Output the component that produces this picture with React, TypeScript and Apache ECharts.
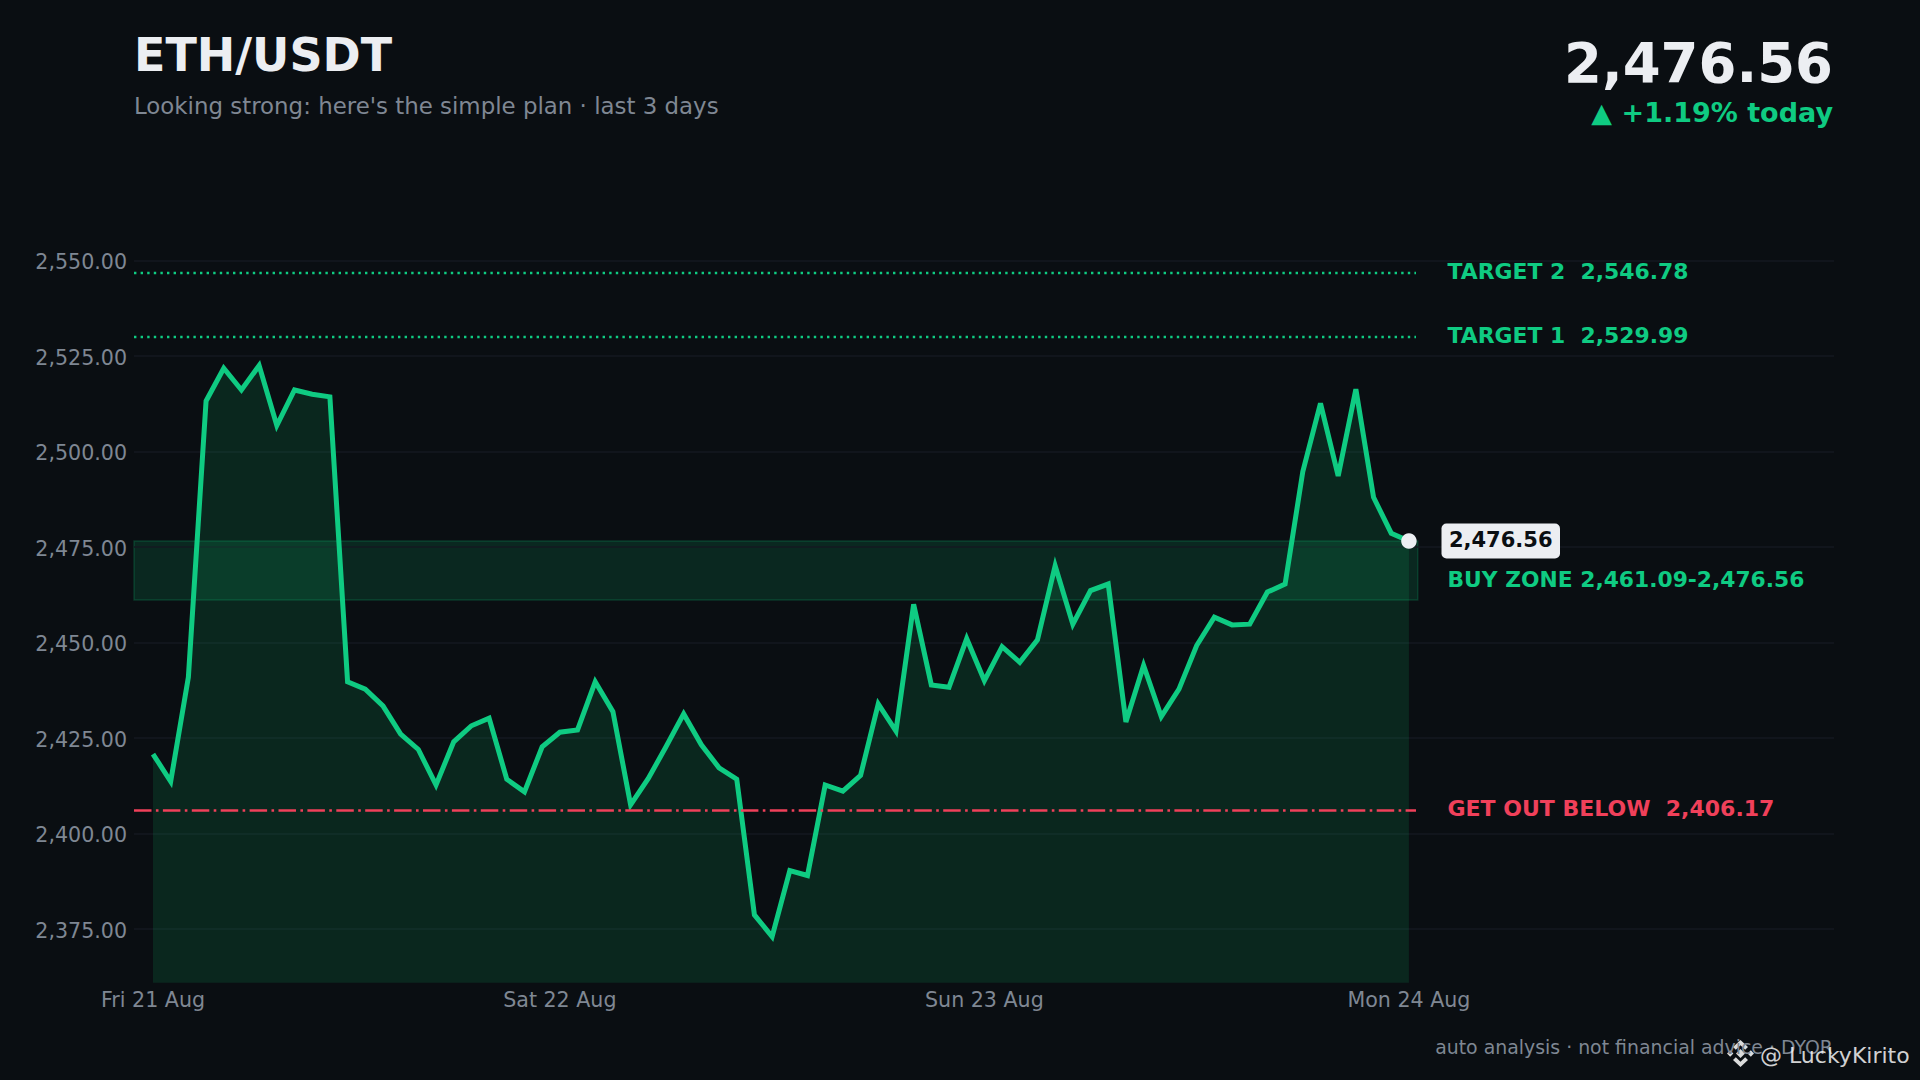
import React, { useEffect, useRef } from "react";
import * as echarts from "echarts";

const dayLabels = ["Fri 21 Aug", "Sat 22 Aug", "Sun 23 Aug", "Mon 24 Aug"];
const dayIndexes = [0, 23, 47, 71];
const yTicks = [2375, 2400, 2425, 2450, 2475, 2500, 2525, 2550];
const prices = [
  2420.8, 2413.6, 2440.9, 2513.2, 2521.8, 2516.1, 2522.5, 2506.8, 2516.1, 2515, 2514.3, 2439.7,
  2437.8, 2433.4, 2426, 2422, 2412.7, 2424, 2428.2, 2430.2, 2414.2, 2410.9, 2422.7, 2426.5,
  2427.1, 2439.7, 2431.9, 2407.5, 2414.4, 2422.7, 2431.3, 2423.2, 2417.2, 2414.2, 2378.7, 2373,
  2390.3, 2389, 2412.7, 2411.1, 2415.2, 2433.9, 2426.8, 2460, 2438.9, 2438.3, 2451, 2440,
  2448.9, 2444.8, 2450.7, 2470.1, 2454.8, 2463.6, 2465.3, 2429.2, 2444, 2430.6, 2437.8, 2449.2,
  2456.6, 2454.6, 2454.8, 2463.2, 2465.3, 2494.7, 2512.6, 2493.6, 2516.3, 2488, 2478.6, 2476.56,
];
const lastPrice = 2476.56;
const target1 = 2529.99;
const target2 = 2546.78;
const stopLevel = 2406.17;
const zoneLow = 2461.09;
const zoneHigh = 2476.56;

const BG = "#0a0e12";
const GREEN = "#0fcb82";
const RED = "#f0405a";
const WHITE = "#eceef2";
const GRAY = "#7f8793";
const FONT = "'DejaVu Sans'";

const fmt = (v: number) => v.toLocaleString("en-US", { minimumFractionDigits: 2, maximumFractionDigits: 2 });

export default function App() {
  const ref = useRef<HTMLDivElement>(null);
  useEffect(() => {
    document.body.style.margin = "0";
    document.body.style.background = BG;
    const chart = echarts.init(ref.current!, undefined, { renderer: "svg" });
    const xMin = -1.074;
    const xMax = 95.03;
    const zoneEnd = 71.5;
    const lineEnd = 71.4;
    const hline = (value: number, color: string, width: number, dash: number[]) => ({
      silent: true,
      symbol: "none",
      label: { show: false },
      lineStyle: { color, width, type: dash, cap: "butt", opacity: 1 },
      data: [[{ coord: [xMin, value] }, { coord: [lineEnd, value] }]],
    });
    const rightText = (text: string, y: number, fill: string, size: number) => ({
      type: "text",
      x: 1447.5,
      y,
      style: { text, fill, font: `bold ${size}px ${FONT}`, textVerticalAlign: "middle", textAlign: "left" },
      z: 20,
    });
    const icon = "rgba(255,255,255,0.85)";
    chart.setOption({
      animation: false,
      backgroundColor: BG,
      grid: { left: 134, top: 240, width: 1700, height: 742.7 },
      xAxis: {
        type: "value",
        min: xMin,
        max: xMax,
        axisLine: { show: false },
        axisTick: { show: false },
        splitLine: { show: false },
        axisLabel: {
          customValues: dayIndexes,
          formatter: (v: number) => dayLabels[dayIndexes.indexOf(Math.round(v))] ?? "",
          color: GRAY,
          fontFamily: FONT,
          fontSize: 20.6,
          margin: 7,
        },
      },
      yAxis: {
        type: "value",
        min: 2360.94,
        max: 2555.36,
        axisLine: { show: false },
        axisTick: { show: false },
        splitLine: { show: false },
        axisLabel: {
          customValues: yTicks,
          formatter: (v: number) => `{t|${fmt(v)}}`,
          margin: 7,
          rich: {
            t: { color: GRAY, fontFamily: FONT, fontSize: 20.6, padding: [4, 0, 0, 0] },
          },
        },
      },
      series: [
        {
          type: "line",
          z: 1,
          silent: true,
          symbol: "none",
          lineStyle: { width: 0 },
          data: [],
          markLine: {
            silent: true,
            symbol: "none",
            label: { show: false },
            lineStyle: { color: "#141920", width: 1.6, type: "solid", opacity: 1 },
            data: yTicks.map((v) => [{ coord: [xMin, v] }, { coord: [xMax, v] }]),
            z: 1,
          },
        },
        {
          type: "line",
          z: 2,
          silent: true,
          symbol: "none",
          lineStyle: { width: 0 },
          data: [],
          markArea: {
            silent: true,
            itemStyle: { color: "rgba(16,201,120,0.14)", borderColor: "rgba(16,201,120,0.2)", borderWidth: 1.5 },
            data: [[{ coord: [xMin, zoneHigh] }, { coord: [zoneEnd, zoneLow] }]],
          },
        },
        {
          name: "ETH/USDT",
          type: "line",
          z: 3,
          silent: true,
          showSymbol: false,
          symbol: "none",
          data: prices.map((p, i) => [i, p]),
          lineStyle: { color: GREEN, width: 5, join: "miter", cap: "butt" },
          areaStyle: { color: "rgba(16,200,115,0.135)", opacity: 1, origin: "start" },
        },
        {
          type: "line",
          z: 4,
          silent: true,
          symbol: "none",
          data: [],
          markLine: { ...hline(target2, GREEN, 2.4, [2.4, 4.2]), z: 4 },
        },
        {
          type: "line",
          z: 4,
          silent: true,
          symbol: "none",
          data: [],
          markLine: { ...hline(target1, GREEN, 2.4, [2.4, 4.2]), z: 4 },
        },
        {
          type: "line",
          z: 4,
          silent: true,
          symbol: "none",
          data: [],
          markLine: { ...hline(stopLevel, RED, 2.7, [17.5, 4.4, 2.6, 4.4]), z: 4 },
        },
        {
          type: "scatter",
          z: 6,
          silent: true,
          symbolSize: 15.5,
          itemStyle: { color: WHITE, opacity: 1 },
          data: [[71, lastPrice]],
        },
      ],
      graphic: [
        { type: "text", x: 134, y: 55, z: 20, style: { text: "ETH/USDT", fill: WHITE, font: `bold 46px ${FONT}`, textVerticalAlign: "middle" } },
        { type: "text", x: 134, y: 105.5, z: 20, style: { text: "Looking strong: here's the simple plan · last 3 days", fill: GRAY, font: `22.9px ${FONT}`, textVerticalAlign: "middle" } },
        { type: "text", x: 1833, y: 63, z: 20, style: { text: fmt(lastPrice), fill: WHITE, font: `bold 54.5px ${FONT}`, textAlign: "right", textVerticalAlign: "middle" } },
        { type: "text", x: 1833, y: 112, z: 20, style: { text: "▲ +1.19% today", fill: GREEN, font: `bold 27px ${FONT}`, textAlign: "right", textVerticalAlign: "middle" } },
        rightText(`TARGET 2  ${fmt(target2)}`, 271, GREEN, 21.9),
        rightText(`TARGET 1  ${fmt(target1)}`, 335, GREEN, 21.9),
        rightText(`BUY ZONE ${fmt(zoneLow)}-${fmt(zoneHigh)}`, 579, GREEN, 21.8),
        rightText(`GET OUT BELOW  ${fmt(stopLevel)}`, 808, RED, 22),
        { type: "rect", z: 20, shape: { x: 1441.5, y: 523.5, width: 118.5, height: 35, r: 5 }, style: { fill: WHITE } },
        { type: "text", x: 1500.7, y: 539.5, z: 21, style: { text: fmt(lastPrice), fill: BG, font: `bold 21px ${FONT}`, textAlign: "center", textVerticalAlign: "middle" } },
        { type: "text", x: 1833, y: 1047, z: 20, style: { text: "auto analysis · not financial advice · DYOR", fill: GRAY, font: `18.9px ${FONT}`, textAlign: "right", textVerticalAlign: "middle" } },
        { type: "text", x: 1760, y: 1055, z: 22, style: { text: "@ LuckyKirito", fill: "rgba(255,255,255,0.82)", font: `22px ${FONT}`, textVerticalAlign: "middle" } },
        {
          type: "group",
          x: 1740.5,
          y: 1053.5,
          z: 22,
          children: [
            { type: "polygon", shape: { points: [[0, -4.5], [4.5, 0], [0, 4.5], [-4.5, 0]] }, style: { fill: icon } },
            { type: "polygon", shape: { points: [[0, -13.5], [7.5, -6.5], [4.7, -3.8], [0, -8.2], [-4.7, -3.8], [-7.5, -6.5]] }, style: { fill: icon } },
            { type: "polygon", shape: { points: [[0, 13.5], [7.5, 6.5], [4.7, 3.8], [0, 8.2], [-4.7, 3.8], [-7.5, 6.5]] }, style: { fill: icon } },
            { type: "polygon", shape: { points: [[-13.5, 0], [-10.3, -3.2], [-7.1, 0], [-10.3, 3.2]] }, style: { fill: icon } },
            { type: "polygon", shape: { points: [[13.5, 0], [10.3, -3.2], [7.1, 0], [10.3, 3.2]] }, style: { fill: icon } },
          ],
        },
      ],
    });
    return () => chart.dispose();
  }, []);
  return <div ref={ref} style={{ width: 1920, height: 1080 }} />;
}
